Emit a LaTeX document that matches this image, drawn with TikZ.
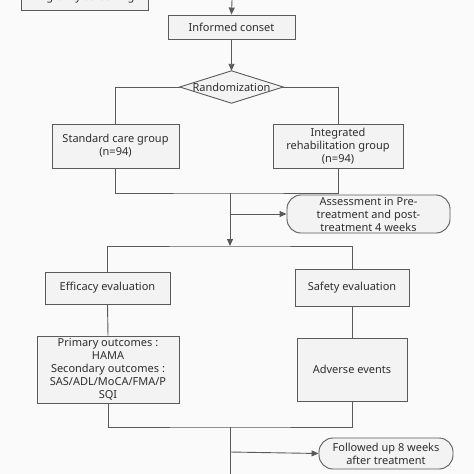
\documentclass[tikz,border=0pt]{standalone}
\usepackage{fontspec}
\setmainfont{Noto Sans}
\usetikzlibrary{arrows.meta}
\definecolor{ln}{HTML}{5A5A5A}
\definecolor{bx}{HTML}{F3F3F3}
\definecolor{bg}{HTML}{FAFAFA}
\definecolor{tx}{HTML}{2E2E2E}
\begin{document}
\begin{tikzpicture}[x=1pt,y=-1pt,
  every node/.style={font=\fontsize{11}{13}\selectfont, text=tx},
  boxs/.style={draw=ln, fill=bx, line width=0.9pt, align=center, inner sep=1pt},
  rbox/.style={boxs, rounded corners=14pt},
  conn/.style={draw=ln, line width=0.9pt},
  arr/.style={conn, -{Triangle[length=7pt,width=6pt]}, shorten >=0pt}]
\useasboundingbox (0,0) rectangle (474,474);
\clip (0,0) rectangle (474,474);
\fill[bg] (0,0) rectangle (474,474);
% nodes
\node[boxs, minimum width=127pt, minimum height=36pt] (elig) at (84.5,-8) {\raisebox{-8pt}[0pt][0pt]{Eligibility screening}};
\node[boxs, minimum width=127pt, minimum height=24pt] (inf) at (231.5,27) {Informed conset};
\node[minimum width=103pt, minimum height=32pt, inner sep=0pt] (rand) at (231.5,87) {};
\draw[conn, fill=bx] (rand.west) -- (rand.north) -- (rand.east) -- (rand.south) -- cycle;
\node at (rand.center) {Randomization};
\node[boxs, minimum width=127pt, minimum height=44pt] (std) at (115.5,146) {Standard care group\\(n=94)};
\node[boxs, minimum width=130pt, minimum height=44pt] (int) at (338,146) {Integrated\\rehabilitation group\\(n=94)};
\node[rbox, minimum width=163pt, minimum height=38pt] (assess) at (368.5,214) {Assessment in Pre-\\treatment and post-\\treatment 4 weeks};
\node[boxs, minimum width=125pt, minimum height=32pt] (eff) at (107.5,288) {Efficacy evaluation};
\node[boxs, minimum width=114pt, minimum height=37pt] (saf) at (352,287.5) {Safety evaluation};
\node[boxs, minimum width=142pt, minimum height=67pt] (prim) at (108,369.5) {Primary outcomes\kern3pt:\\HAMA\\Secondary outcomes\kern3pt:\\SAS/ADL/MoCA/FMA/P\\SQI};
\node[boxs, minimum width=110pt, minimum height=63pt] (adv) at (352,369.5) {Adverse events};
\node[rbox, minimum width=134pt, minimum height=31pt] (follow) at (386,453.5) {Followed up 8 weeks\\after treatment};
% junction coordinates
\coordinate (top) at (232,0);
\coordinate (j1) at (230,193);
\coordinate (b1) at (230,214);
\coordinate (j2) at (230,246);
\coordinate (j3) at (230,427);
\coordinate (b2) at (230,452);
\coordinate (bot) at (230,480);
% connectors
\draw[arr] (top) -- (inf.north);
\draw[arr] (inf.south) -- (rand.north);
\draw[conn] (rand.west) -| (std.north);
\draw[conn] (rand.east) -| (int.north);
\draw[conn] (std.south) |- (j1) -| (int.south);
\draw[arr] (j1) -- (j2);
\draw[arr] (b1) -- (assess.west);
\draw[conn] (eff.north) |- (j2) -| (saf.north);
\draw[conn] (eff.south) -- (prim.north);
\draw[conn] (saf.south) -- (adv.north);
\draw[conn] (prim.south) |- (j3) -| (adv.south);
\draw[conn] (j3) -- (bot);
\draw[arr] (b2) -- (follow.west);
\end{tikzpicture}
\end{document}
